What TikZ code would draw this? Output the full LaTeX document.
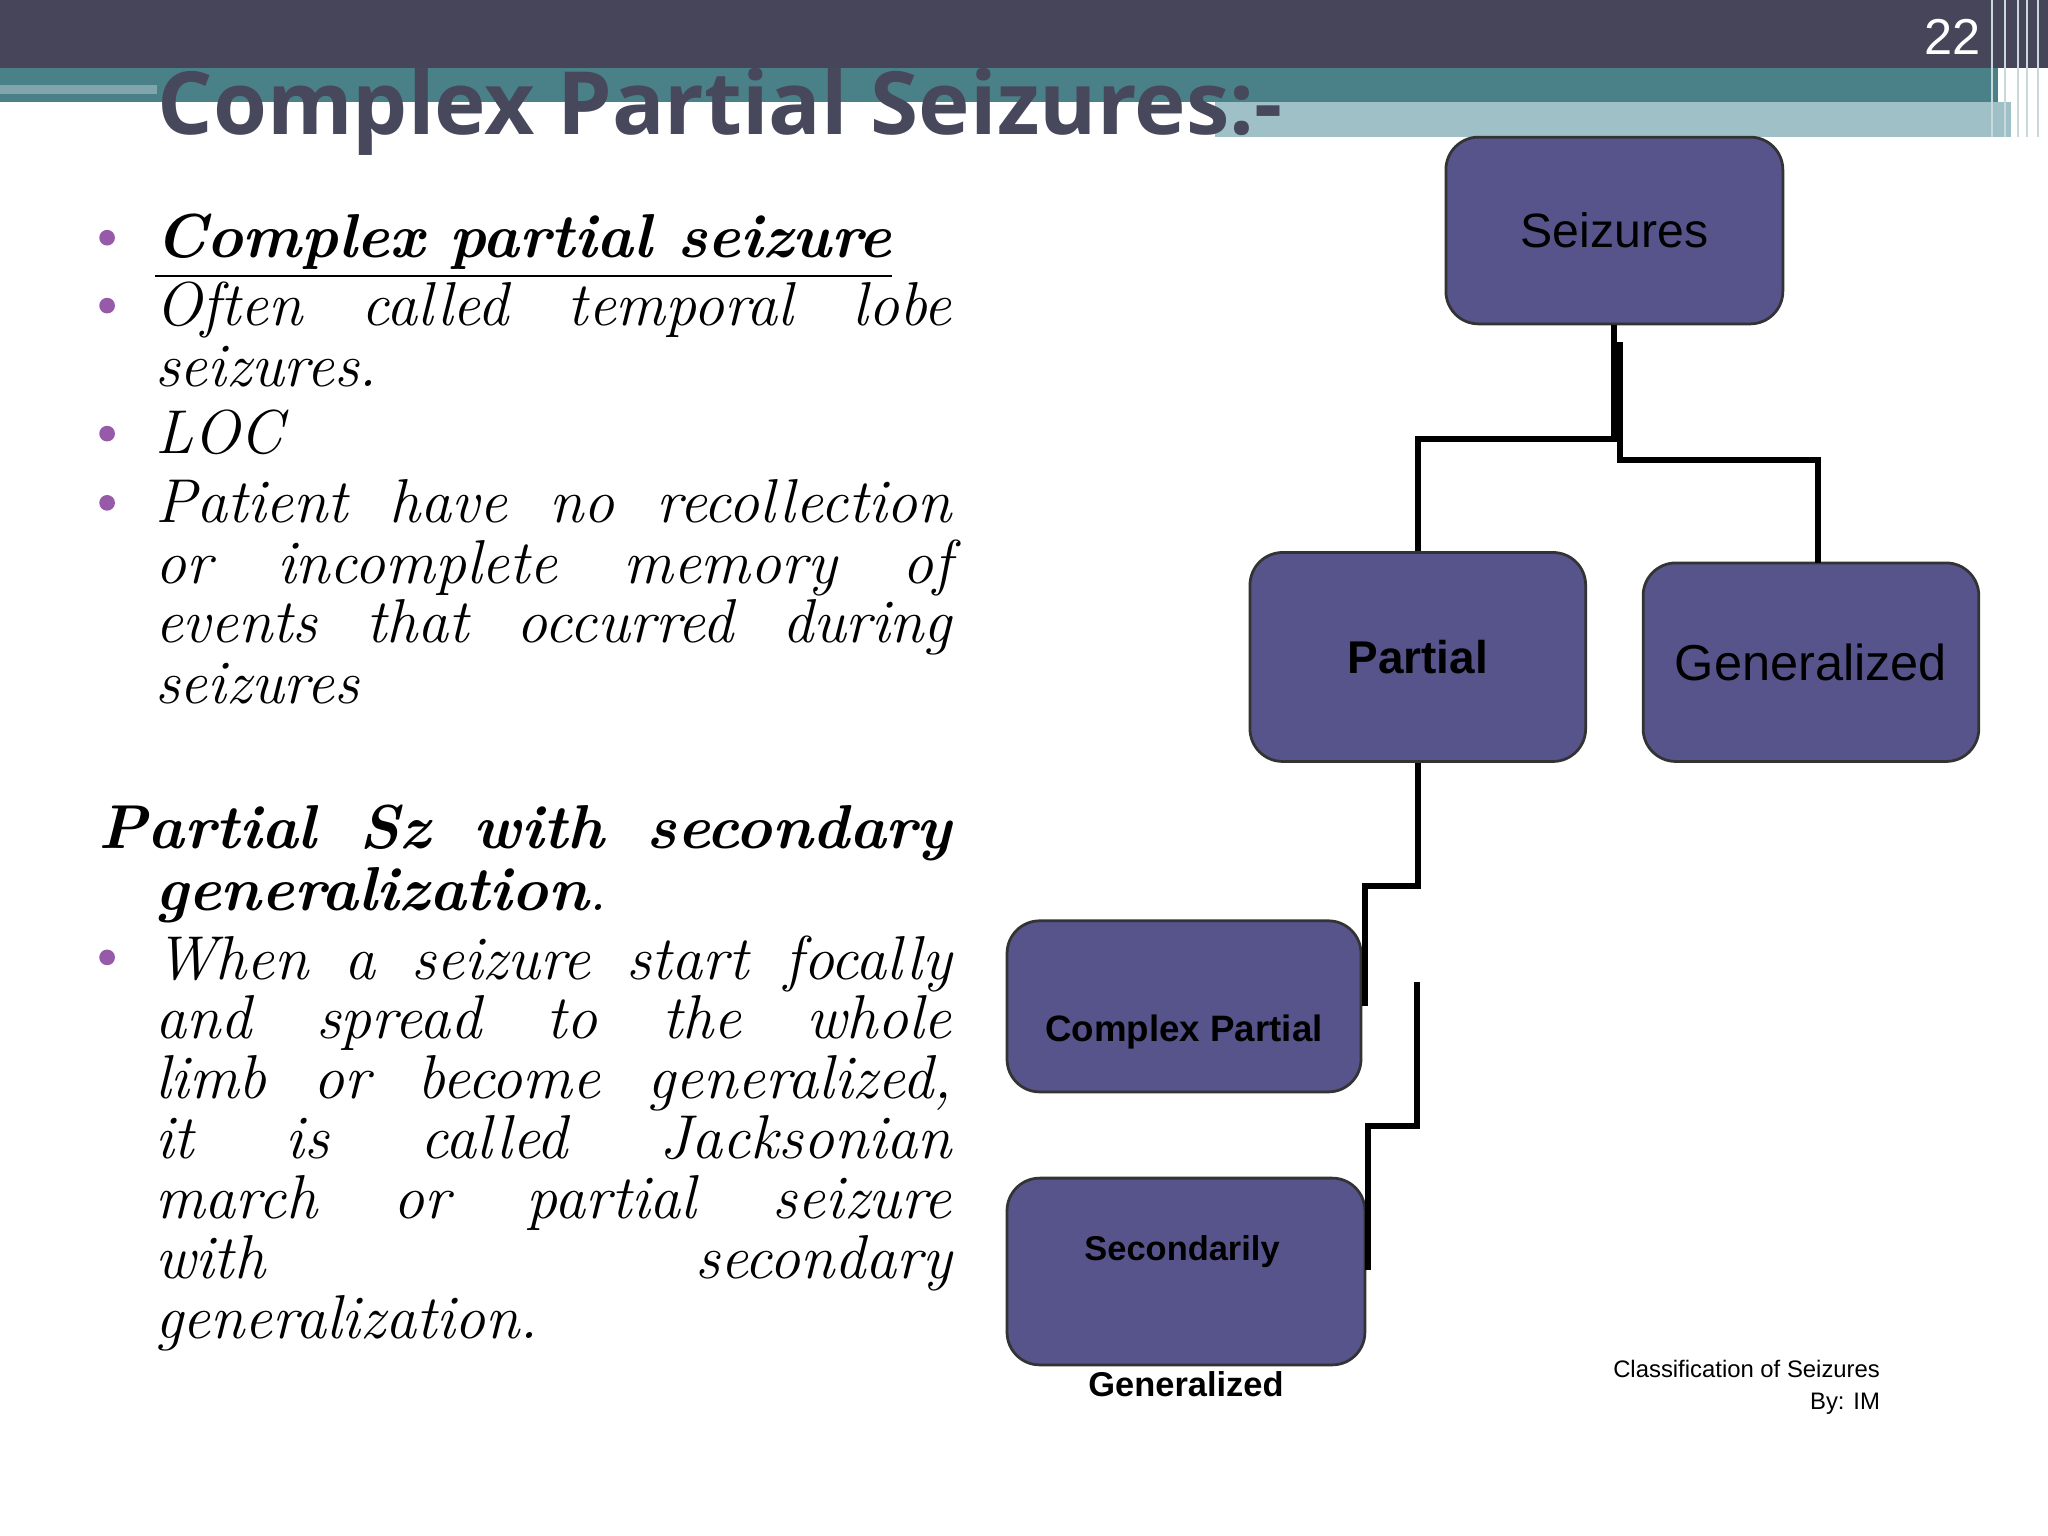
\documentclass[tikz,border=0pt]{standalone}
\usepackage{fontspec}
\newfontfamily\titlefont{Open Sans}
\newfontfamily\boxfont{Liberation Sans}
\definecolor{headdark}{RGB}{70,69,90}
\definecolor{headteal}{RGB}{74,128,136}
\definecolor{headlight}{RGB}{160,192,200}
\definecolor{titlegray}{RGB}{72,72,92}
\definecolor{boxfill}{RGB}{86,84,138}
\definecolor{bulletcolor}{RGB}{150,90,168}
\tikzset{
  txt/.style={anchor=base west,inner sep=0pt,font=\fontsize{13.5}{13}\selectfont\itshape},
  dot/.style={circle,fill=bulletcolor,inner sep=0pt,minimum size=0.12cm},
  box/.style={draw=black!80,fill=boxfill,rounded corners=0.25cm,line width=0.6pt,inner sep=0pt},
  link/.style={line width=1.3pt,black}
}
\begin{document}
\begin{tikzpicture}
  \useasboundingbox (0,0) rectangle (15.68,-11.76);
  % header bands
  \fill[white] (0,0) rectangle (15.68,-11.76);
  \fill[headdark] (0,0) rectangle (15.68,-0.52);
  \fill[headteal] (0,-0.52) rectangle (15.3,-0.78);
  \fill[headlight] (9.3,-0.78) rectangle (15.4,-1.05);
  \fill[headteal!70] (0,-0.65) rectangle (1.2,-0.72);
  \foreach \x in {15.25,15.35,15.45,15.52,15.6}
    \draw[white!70!headteal,line width=0.4pt] (\x,0) -- (\x,-1.05);
  \node[text=white,font=\boxfont\fontsize{11}{11}\selectfont] (pagenum) at (14.95,-0.28) {22};
  % title
  \node[anchor=base west,inner sep=0pt,text=titlegray,font=\titlefont\bfseries\fontsize{19}{19}\selectfont] (title) at (1.2,-1.03) {Complex Partial Seizures:-};
  % bullets
  \foreach \y in {1.82,2.34,3.32,3.85,7.33}
    \node[dot] at (0.82,-\y) {};
  % left text
  \node[txt] (l1) at (1.18,-1.97) {\textbf{\underline{Complex partial seizure}}};
  \node[txt] (l2) at (1.18,-2.49) {\makebox[6.1cm][s]{Often called temporal lobe}};
  \node[txt] (l3) at (1.18,-2.96) {seizures.};
  \node[txt] (l4) at (1.18,-3.47) {LOC};
  \node[txt] (l5) at (1.18,-4.00) {\makebox[6.1cm][s]{Patient have no recollection}};
  \node[txt] (l6) at (1.18,-4.47) {\makebox[6.1cm][s]{or incomplete memory of}};
  \node[txt] (l7) at (1.18,-4.92) {\makebox[6.1cm][s]{events that occurred during}};
  \node[txt] (l8) at (1.18,-5.39) {seizures};
  \node[txt] (l9) at (0.75,-6.50) {\bfseries\makebox[6.53cm][s]{Partial Sz with secondary}};
  \node[txt] (l10) at (1.18,-6.97) {\textbf{generalization}.};
  \node[txt] (l11) at (1.18,-7.50) {\makebox[6.1cm][s]{When a seizure start focally}};
  \node[txt] (l12) at (1.18,-7.95) {\makebox[6.1cm][s]{and spread to the whole}};
  \node[txt] (l13) at (1.18,-8.41) {\makebox[6.1cm][s]{limb or become generalized,}};
  \node[txt] (l14) at (1.18,-8.87) {\makebox[6.1cm][s]{it is called Jacksonian}};
  \node[txt] (l15) at (1.18,-9.33) {\makebox[6.1cm][s]{march or partial seizure}};
  \node[txt] (l16) at (1.18,-9.79) {\makebox[6.1cm][s]{with secondary}};
  \node[txt] (l17) at (1.18,-10.25) {generalization.};
  % boxes
  \node[box,minimum width=2.58cm,minimum height=1.43cm,font=\boxfont\fontsize{10.5}{10.5}\selectfont] (seiz) at (12.36,-1.765) {Seizures};
  \node[box,minimum width=2.57cm,minimum height=1.6cm,font=\boxfont\bfseries\fontsize{10}{10}\selectfont] (partial) at (10.855,-5.03) {Partial};
  \node[box,minimum width=2.57cm,minimum height=1.52cm,font=\boxfont\fontsize{11}{11}\selectfont] (gen) at (13.865,-5.07) {Generalized};
  \node[box,minimum width=2.71cm,minimum height=1.31cm] (cplx) at (9.065,-7.705) {};
  \node[font=\boxfont\bfseries\fontsize{8}{8}\selectfont] (cplxlbl) at (9.065,-7.9) {Complex Partial};
  \node[box,minimum width=2.74cm,minimum height=1.43cm] (sec) at (9.08,-9.735) {};
  \node[font=\boxfont\bfseries\fontsize{7.5}{7.5}\selectfont] (seclbl) at (9.05,-9.58) {Secondarily};
  \node[font=\boxfont\bfseries\fontsize{7.5}{7.5}\selectfont] (seclbl2) at (9.08,-10.6) {Generalized};
  % connectors
  \coordinate (c1) at (12.40,-2.62);
  \coordinate (c2) at (10.85,-7.52);
  \coordinate (c3) at (10.45,-7.70);
  \coordinate (c4) at (10.47,-9.72);
  \draw[link] (seiz.south) -- ++(0,-0.87) -| (partial.north);
  \draw[link] (c1) -- (12.40,-3.52) -| (13.92,-4.31);
  \draw[link] (partial.south) -- ++(0,-0.94) -| (c3);
  \draw[link] (c2) -- (10.85,-8.62) -| (c4);
  % footer
  \node[anchor=east,align=right,inner sep=0pt,font=\boxfont\fontsize{5.2}{7}\selectfont] (foot) at (14.40,-10.62) {Classification of Seizures\\By: IM};
\end{tikzpicture}
\end{document}
